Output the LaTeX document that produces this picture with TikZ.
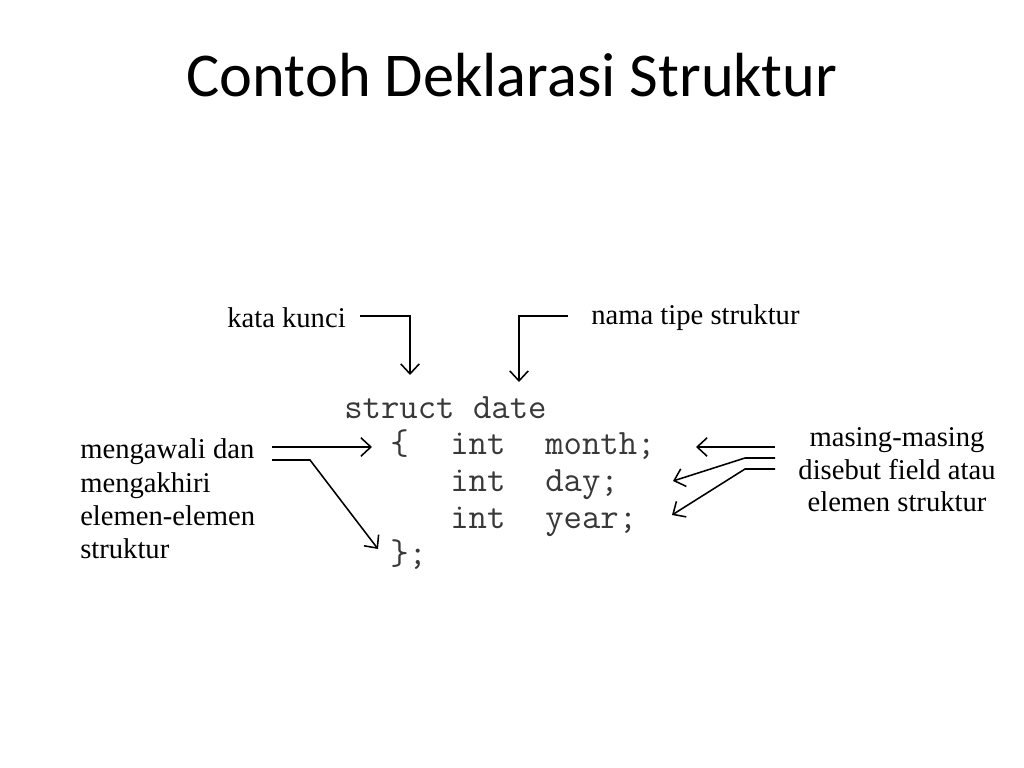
\documentclass[tikz,border=0pt]{standalone}
\usepackage{fontspec}
\setmainfont{Liberation Serif}
\newfontfamily\titlefont{Carlito}
\usetikzlibrary{arrows.meta}
\tikzset{
  lbl/.style={inner sep=0pt, anchor=base west, font=\fontsize{20.2}{23}\selectfont},
  lblc/.style={inner sep=0pt, anchor=base, font=\fontsize{20.2}{23}\selectfont},
  code/.style={inner sep=0pt, anchor=base west, font=\ttfamily\fontsize{25.2}{28}\selectfont, text=black!78},
  arr/.style={line width=1.1pt, -{Straight Barb[length=7pt,width=13pt,line width=1.1pt]}},
}
\begin{document}
\begin{tikzpicture}[x=0.703125bp,y=-0.703125bp]
\useasboundingbox (0,0) rectangle (1024,768);
\fill[white] (0,0) rectangle (1024,768);
\node[inner sep=0pt, anchor=base, font=\titlefont\fontsize{44}{50}\selectfont] (title) at (512,97) {Contoh Deklarasi Struktur};

% labels
\node[lbl] (kk) at (227,327) {kata kunci};
\node[lbl] (nts) at (591,324) {nama tipe struktur};
\node[lbl] (l1) at (80,458) {mengawali dan};
\node[lbl] (l2) at (80,492) {mengakhiri};
\node[lbl] (l3) at (80,525) {elemen-elemen};
\node[lbl] (l4) at (80,558) {struktur};
\node[lblc] (r1) at (897,446) {masing-masing};
\node[lblc] (r2) at (897,479) {disebut field atau};
\node[lblc] (r3) at (897,511) {elemen struktur};

% code
\node[code] (c0) at (344,418) {struct date};
\node[code] (cb) at (390,454) {\{};
\node[code] (i1) at (450,454) {int};
\node[code] (m1) at (545,454) {month;};
\node[code] (i2) at (450,491) {int};
\node[code] (m2) at (545,491) {day;};
\node[code] (i3) at (450,528) {int};
\node[code] (m3) at (545,528) {year;};
\node[code] (ce) at (390,564) {\};};

% connector coordinates
\coordinate (kkS) at (360,316);
\coordinate (kkB) at (410,316);
\coordinate (kkE) at (410,375);
\coordinate (ntS) at (568,316);
\coordinate (ntB) at (519,316);
\coordinate (ntE) at (519,382);
\coordinate (aS) at (272,447);
\coordinate (aE) at (372,447);
\coordinate (bS) at (272,460);
\coordinate (bB) at (310,460);
\coordinate (bE) at (378,549);
\coordinate (r1S) at (775,447);
\coordinate (r1E) at (696,447);
\coordinate (r2S) at (775,458);
\coordinate (r2B) at (745,458);
\coordinate (r2E) at (673,481);
\coordinate (r3S) at (775,469);
\coordinate (r3B) at (745,469);
\coordinate (r3E) at (672,515);

\draw[arr] (kkS) -- (kkB) -- (kkE);
\draw[arr] (ntS) -- (ntB) -- (ntE);
\draw[arr] (aS) -- (aE);
\draw[arr] (bS) -- (bB) -- (bE);
\draw[arr] (r1S) -- (r1E);
\draw[arr] (r2S) -- (r2B) -- (r2E);
\draw[arr] (r3S) -- (r3B) -- (r3E);
\end{tikzpicture}
\end{document}
